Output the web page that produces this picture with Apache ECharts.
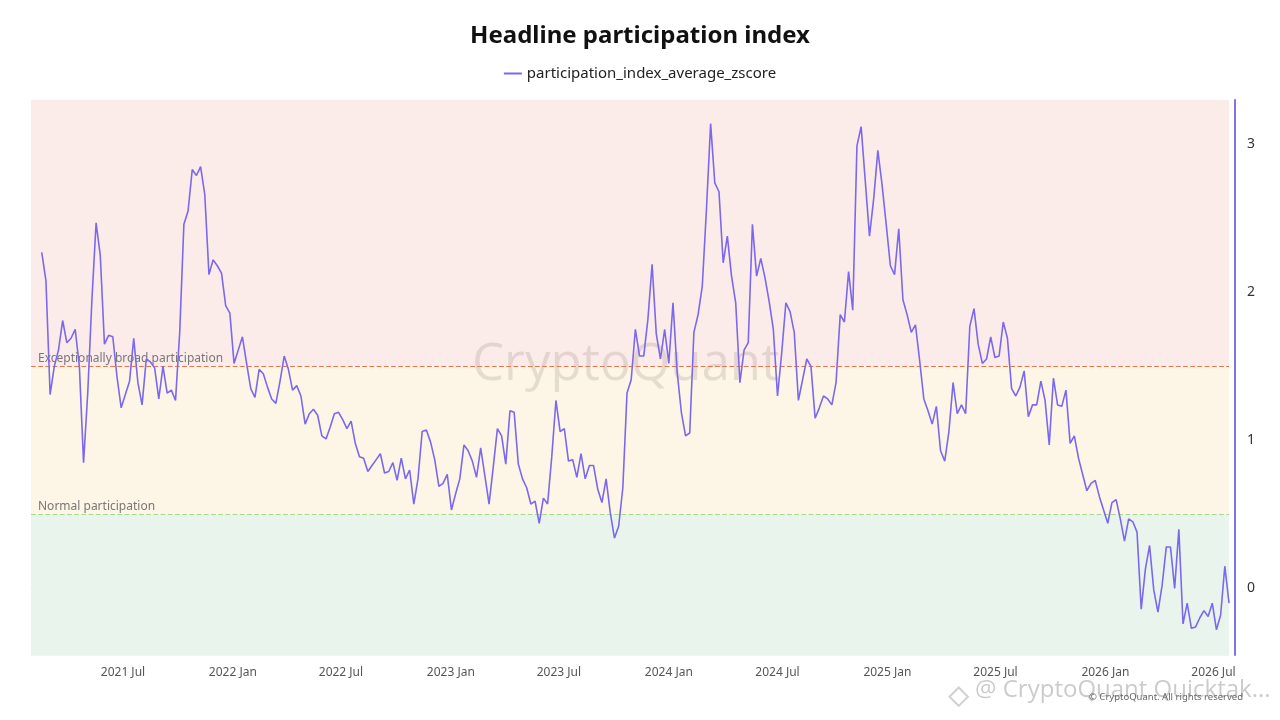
<!DOCTYPE html>
<html>
<head>
<meta charset="utf-8">
<script src="https://cdn.jsdelivr.net/npm/echarts@6/dist/echarts.min.js"></script>
<style>
  html, body { margin: 0; padding: 0; background: #fff; }
  #chart { width: 1280px; height: 720px; }
</style>
</head>
<body>
<div id="chart"></div>
<script>
// weekly readings, first week starting 2021-02-15
const startDate = [2021, 1, 15]
const zscore = [
  2.27, 2.08, 1.31, 1.50, 1.61, 1.81, 1.66, 1.69, 1.75, 1.50,
  0.85, 1.32, 1.95, 2.47, 2.25, 1.65, 1.71, 1.70, 1.43, 1.22,
  1.31, 1.40, 1.69, 1.39, 1.24, 1.55, 1.53, 1.49, 1.28, 1.50,
  1.32, 1.34, 1.27, 1.73, 2.46, 2.55, 2.83, 2.79, 2.85, 2.66,
  2.12, 2.22, 2.18, 2.13, 1.91, 1.86, 1.52, 1.61, 1.70, 1.52,
  1.35, 1.29, 1.48, 1.45, 1.36, 1.28, 1.25, 1.40, 1.57, 1.48,
  1.34, 1.37, 1.30, 1.11, 1.18, 1.21, 1.17, 1.03, 1.01, 1.09,
  1.18, 1.19, 1.14, 1.08, 1.13, 0.98, 0.89, 0.88, 0.79, 0.83,
  0.87, 0.91, 0.78, 0.79, 0.85, 0.73, 0.88, 0.74, 0.80, 0.57,
  0.74, 1.06, 1.07, 0.99, 0.87, 0.69, 0.71, 0.77, 0.53, 0.64,
  0.74, 0.97, 0.93, 0.86, 0.75, 0.95, 0.76, 0.57, 0.82, 1.08,
  1.03, 0.84, 1.20, 1.19, 0.84, 0.74, 0.68, 0.57, 0.59, 0.44,
  0.61, 0.57, 0.89, 1.27, 1.06, 1.08, 0.86, 0.87, 0.75, 0.91,
  0.74, 0.83, 0.83, 0.67, 0.58, 0.74, 0.51, 0.34, 0.42, 0.68,
  1.32, 1.41, 1.75, 1.57, 1.57, 1.82, 2.19, 1.72, 1.55, 1.75,
  1.52, 1.93, 1.46, 1.19, 1.03, 1.05, 1.73, 1.85, 2.04, 2.56,
  3.14, 2.74, 2.68, 2.20, 2.38, 2.11, 1.93, 1.39, 1.61, 1.66,
  2.46, 2.11, 2.23, 2.10, 1.94, 1.75, 1.30, 1.59, 1.93, 1.87,
  1.73, 1.27, 1.41, 1.55, 1.50, 1.15, 1.22, 1.30, 1.28, 1.24,
  1.39, 1.85, 1.80, 2.14, 1.88, 2.99, 3.12, 2.75, 2.38, 2.63,
  2.96, 2.73, 2.46, 2.18, 2.12, 2.43, 1.95, 1.85, 1.73, 1.78,
  1.54, 1.28, 1.20, 1.11, 1.23, 0.93, 0.86, 1.06, 1.39, 1.18,
  1.24, 1.18, 1.77, 1.89, 1.65, 1.52, 1.55, 1.70, 1.56, 1.57,
  1.80, 1.69, 1.35, 1.30, 1.36, 1.47, 1.16, 1.24, 1.24, 1.40,
  1.27, 0.97, 1.42, 1.24, 1.23, 1.34, 0.98, 1.03, 0.88, 0.77,
  0.66, 0.71, 0.73, 0.62, 0.53, 0.44, 0.58, 0.60, 0.47, 0.32,
  0.47, 0.45, 0.38, -0.14, 0.13, 0.29, -0.01, -0.16, 0.02, 0.28,
  0.28, 0.00, 0.40, -0.24, -0.10, -0.27, -0.26, -0.20, -0.15, -0.19,
  -0.10, -0.28, -0.18, 0.15, -0.10
]
const tickMonths = [
  [2021, 6], [2022, 0], [2022, 6], [2023, 0], [2023, 6], [2024, 0],
  [2024, 6], [2025, 0], [2025, 6], [2026, 0], [2026, 6]
]
const bandEdges = [-0.45, 0.5, 1.5, 3.3]
const bandNames = ['Normal participation', 'Exceptionally broad participation']

const DAY = 86400000
const t0 = new Date(startDate[0], startDate[1], startDate[2]).getTime()
const seriesData = zscore.map((v, i) => [t0 + i * 7 * DAY, v])
const tickValues = tickMonths.map(d => new Date(d[0], d[1], 1).getTime())

let myChart = echarts.init(document.getElementById('chart'))
let option = {
  animation: false,
  title: {
    text: 'Headline participation index',
    left: 'center',
    top: 19,
    textStyle: {fontFamily: 'Noto Sans', fontSize: 24, fontWeight: 'bold', color: '#111'}
  },
  legend: {
    top: 61,
    left: 'center',
    icon: 'rect',
    itemWidth: 18,
    itemHeight: 2,
    itemGap: 6,
    textStyle: {fontFamily: 'Noto Sans', fontSize: 15, color: '#222'},
    data: ['participation_index_average_zscore']
  },
  grid: {left: 31, right: 51, top: 100, bottom: 65},
  xAxis: {
    // plain value axis holding timestamps, so the half-year ticks can be placed exactly
    type: 'value',
    min: new Date(2021, 0, 28).getTime(),
    max: seriesData[seriesData.length - 1][0],
    axisLine: {lineStyle: {color: '#d8dde3'}},
    axisTick: {show: true, customValues: tickValues, length: 5, lineStyle: {color: '#d8dde3'}},
    splitLine: {show: false},
    axisLabel: {
      customValues: tickValues,
      fontFamily: 'Noto Sans',
      fontSize: 12,
      color: '#555',
      margin: 12,
      formatter: val => {
        const d = new Date(val)
        return d.getFullYear() + (d.getMonth() === 0 ? ' Jan' : ' Jul')
      }
    }
  },
  yAxis: {
    type: 'value',
    position: 'right',
    offset: 6,
    min: bandEdges[0],
    max: bandEdges[3],
    splitNumber: 4,
    axisLine: {show: true, lineStyle: {color: '#8073e6', width: 2}},
    axisTick: {show: false},
    axisLabel: {
      showMinLabel: false,
      showMaxLabel: false,
      margin: 12,
      fontFamily: 'Noto Sans',
      fontSize: 14,
      color: '#333'
    },
    splitLine: {lineStyle: {color: 'rgba(200,190,180,0.18)'}}
  },
  graphic: [
    {
      type: 'text', left: 472, top: 340, z: 4,
      style: {text: 'CryptoQuant', fontFamily: 'Open Sans', fontSize: 51, fill: 'rgba(110,95,90,0.17)'}
    },
    {
      type: 'text', left: 975, top: 678, z: 100,
      style: {text: '@ CryptoQuant Quicktak...', fontFamily: 'Open Sans', fontSize: 24, fill: 'rgba(140,140,140,0.45)'}
    },
    {
      type: 'rect', left: 946, top: 684, rotation: Math.PI / 4, z: 100,
      shape: {width: 13, height: 13},
      style: {fill: 'none', stroke: 'rgba(140,140,140,0.4)', lineWidth: 2}
    },
    {
      type: 'text', left: 1089, top: 692, z: 101,
      style: {text: '© CryptoQuant. All rights reserved', fontFamily: 'Noto Sans', fontSize: 9.5, fill: '#666'}
    }
  ],
  series: [
    {
      name: 'participation_index_average_zscore',
      type: 'line',
      data: seriesData,
      showSymbol: false,
      z: 5,
      lineStyle: {color: '#7b68ee', width: 1.6},
      itemStyle: {color: '#7b68ee'},
      markArea: {
        silent: true,
        data: [
          [{yAxis: bandEdges[2], itemStyle: {color: '#fcece9'}}, {yAxis: bandEdges[3]}],
          [{yAxis: bandEdges[1], itemStyle: {color: '#fdf6e7'}}, {yAxis: bandEdges[2]}],
          [{yAxis: bandEdges[0], itemStyle: {color: '#e9f5ec'}}, {yAxis: bandEdges[1]}]
        ]
      },
      markLine: {
        silent: true,
        symbol: 'none',
        data: [
          {
            yAxis: bandEdges[2],
            lineStyle: {color: '#e8774f', type: 'dashed', width: 1.2},
            label: {formatter: bandNames[1], position: 'insideStartTop', color: '#777', fontFamily: 'Noto Sans', fontSize: 12, distance: [7, 2]}
          },
          {
            yAxis: bandEdges[1],
            lineStyle: {color: '#a6d98c', type: 'dashed', width: 1.2},
            label: {formatter: bandNames[0], position: 'insideStartTop', color: '#777', fontFamily: 'Noto Sans', fontSize: 12, distance: [7, 2]}
          }
        ]
      }
    }
  ]
}
myChart.setOption(option)
</script>
</body>
</html>
